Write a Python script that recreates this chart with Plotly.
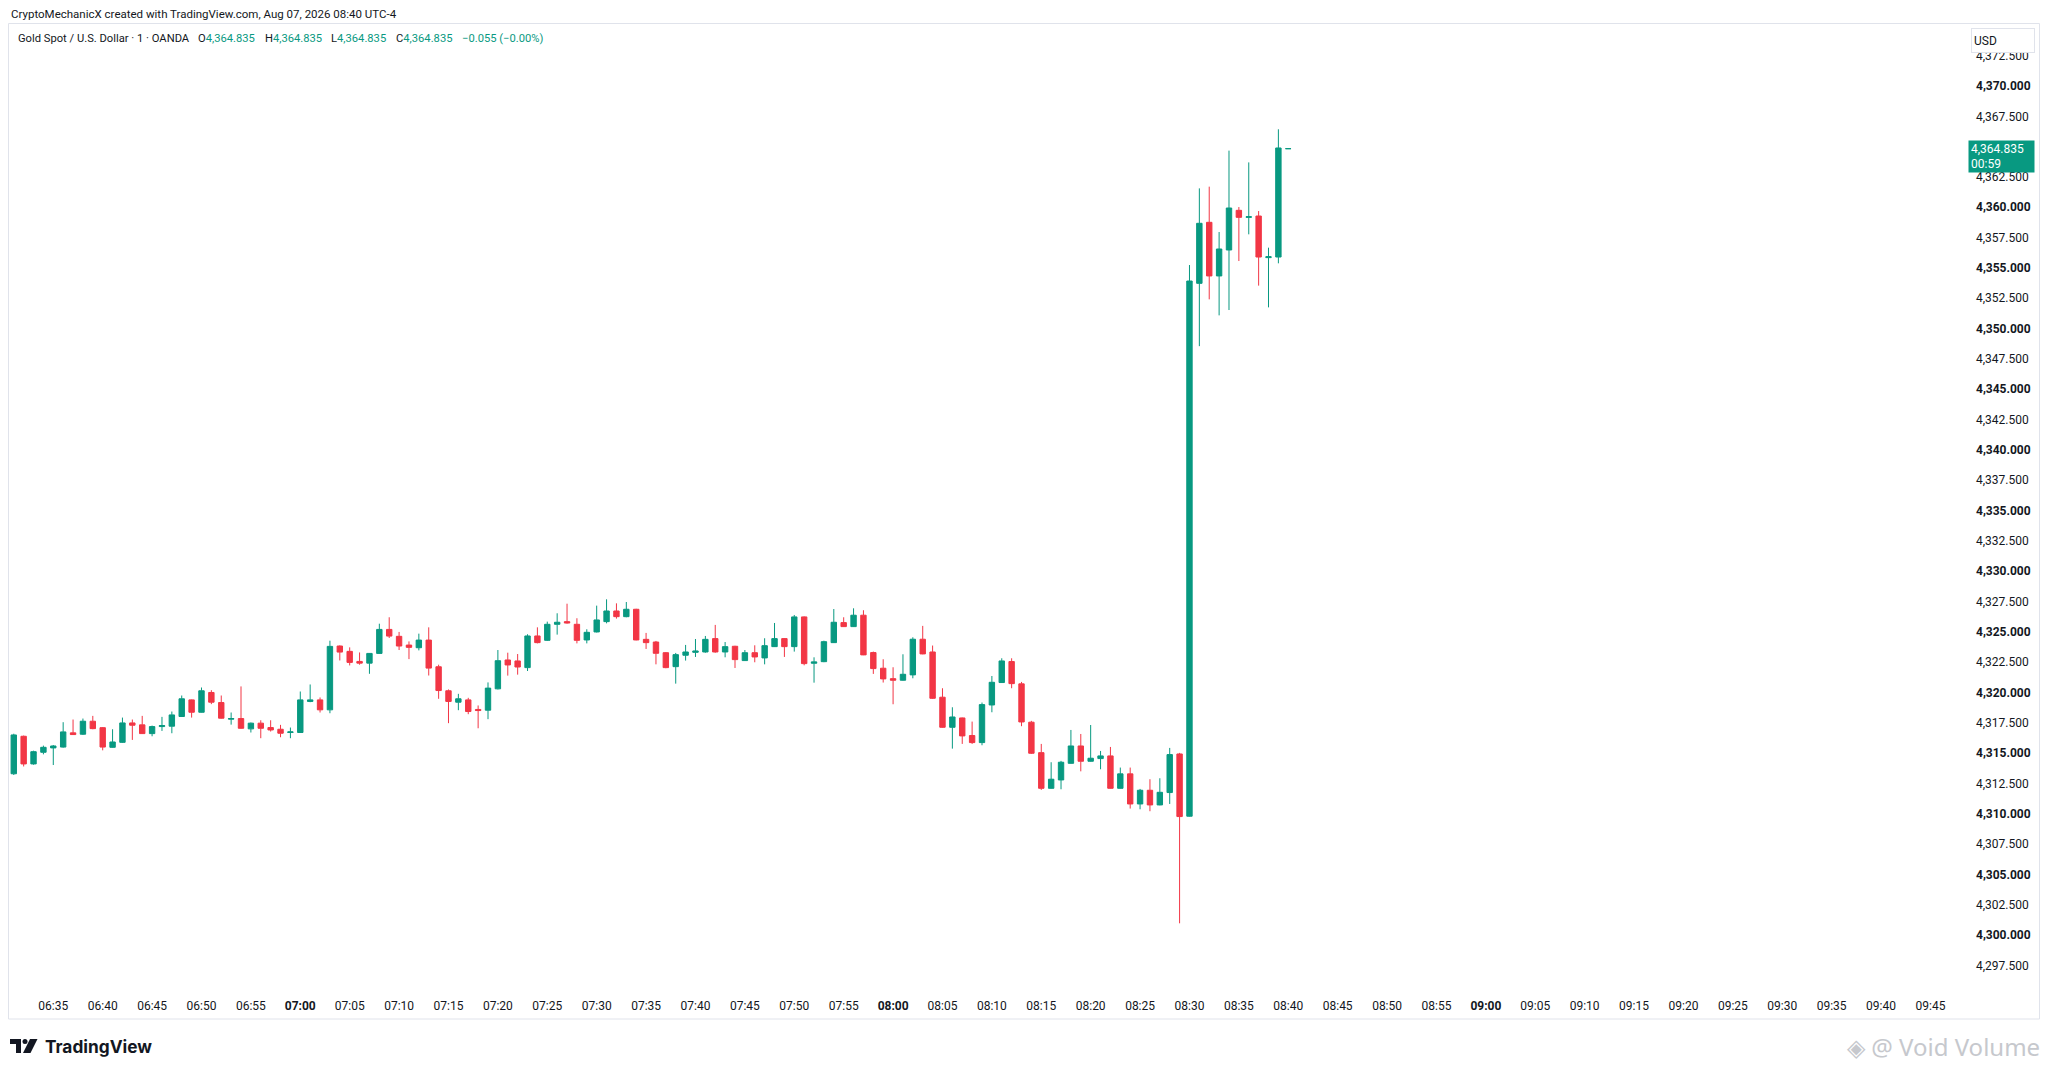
"""
Gold Spot / USD 1-minute candles (OANDA), TradingView-style light chart.
"""

import pandas as pd
import plotly.graph_objects as go

GREEN = "#089981"
RED = "#F23645"
TEXT = "#131722"
BORDER = "#E0E3EB"
FONT = "Roboto, 'Noto Sans', sans-serif"

# ── data: 1-minute bars from 06:31 to 08:40 ──────────────────────────────────
START = "2026-08-07 06:31"

OPEN = [
    4313.30, 4316.39, 4314.11, 4315.07, 4315.43, 4315.50, 4316.67, 4316.56, 4317.63, 4317.10,
    4315.48, 4315.89, 4317.49, 4317.33, 4316.61, 4317.19, 4317.22, 4318.02, 4319.39, 4318.37,
    4320.00, 4319.17, 4317.80, 4317.85, 4317.00, 4317.47, 4317.11, 4316.97, 4316.70, 4316.70,
    4319.26, 4319.39, 4318.57, 4323.83, 4323.39, 4322.56, 4322.42, 4323.22, 4325.20, 4324.63,
    4323.91, 4323.69, 4324.32, 4322.12, 4320.14, 4319.20, 4319.39, 4318.60, 4318.54, 4320.30,
    4322.68, 4322.60, 4322.05, 4324.66, 4324.30, 4325.62, 4325.84, 4325.62, 4324.33, 4324.99,
    4325.84, 4326.72, 4326.25, 4326.86, 4324.38, 4324.16, 4323.28, 4322.13, 4323.07, 4323.31,
    4323.34, 4324.44, 4323.34, 4323.81, 4322.63, 4323.28, 4322.85, 4323.78, 4324.44, 4323.78,
    4326.23, 4322.41, 4322.54, 4324.11, 4325.76, 4325.43, 4326.37, 4323.29, 4322.00, 4321.14,
    4321.01, 4321.45, 4324.39, 4323.34, 4319.61, 4317.13, 4317.90, 4316.45, 4315.87, 4318.97,
    4320.82, 4322.55, 4320.71, 4317.55, 4315.04, 4312.10, 4312.79, 4314.16, 4315.59, 4314.33,
    4314.55, 4314.77, 4312.10, 4313.29, 4310.81, 4311.94, 4310.73, 4311.75, 4314.93, 4309.80,
    4353.73, 4358.76, 4354.34, 4356.48, 4359.75, 4359.17, 4359.28, 4355.85, 4355.90, 4364.83,
]
HIGH = [
    4316.60, 4316.45, 4315.20, 4315.62, 4315.67, 4317.55, 4317.77, 4317.85, 4318.07, 4317.15,
    4316.97, 4317.93, 4317.77, 4318.07, 4317.27, 4317.99, 4318.43, 4319.75, 4319.42, 4320.41,
    4320.19, 4319.75, 4318.35, 4320.50, 4317.52, 4317.71, 4317.71, 4317.33, 4317.11, 4320.08,
    4320.66, 4319.59, 4324.27, 4323.88, 4323.72, 4323.30, 4323.25, 4325.67, 4326.20, 4324.99,
    4324.21, 4324.85, 4325.37, 4322.29, 4320.25, 4319.89, 4319.56, 4318.93, 4320.83, 4323.50,
    4323.28, 4323.17, 4324.80, 4325.37, 4325.84, 4326.53, 4327.32, 4326.12, 4325.21, 4327.16,
    4327.68, 4327.35, 4327.46, 4326.90, 4324.91, 4324.25, 4323.32, 4323.26, 4323.92, 4324.41,
    4324.66, 4325.57, 4324.16, 4323.85, 4323.50, 4323.89, 4324.47, 4325.73, 4324.48, 4326.39,
    4326.27, 4322.90, 4324.27, 4326.88, 4326.20, 4326.94, 4326.78, 4323.37, 4322.74, 4322.08,
    4323.15, 4324.55, 4325.49, 4323.87, 4320.35, 4318.78, 4317.93, 4317.60, 4319.17, 4321.36,
    4322.82, 4322.82, 4320.87, 4317.66, 4315.76, 4314.25, 4314.36, 4316.91, 4316.58, 4317.32,
    4315.18, 4315.51, 4313.81, 4313.81, 4312.05, 4312.85, 4312.93, 4315.43, 4315.02, 4355.24,
    4361.56, 4361.70, 4357.96, 4364.67, 4360.02, 4363.70, 4359.69, 4356.67, 4366.43, 4364.835,
]
LOW = [
    4313.20, 4313.90, 4314.05, 4314.90, 4314.02, 4315.45, 4316.50, 4316.50, 4316.97, 4315.23,
    4315.45, 4315.85, 4316.09, 4316.58, 4316.39, 4316.83, 4316.64, 4318.00, 4317.93, 4318.35,
    4319.04, 4317.85, 4317.35, 4317.02, 4316.70, 4316.23, 4316.78, 4316.31, 4316.23, 4316.68,
    4319.20, 4318.35, 4318.29, 4322.64, 4322.23, 4322.29, 4321.54, 4323.20, 4324.49, 4323.50,
    4322.75, 4323.47, 4321.40, 4319.48, 4317.47, 4318.54, 4318.21, 4317.05, 4317.80, 4320.25,
    4321.39, 4321.47, 4321.77, 4324.05, 4324.25, 4324.77, 4325.68, 4324.05, 4324.05, 4324.95,
    4325.70, 4326.09, 4326.20, 4324.30, 4323.59, 4322.32, 4322.00, 4320.73, 4322.63, 4322.93,
    4323.28, 4323.28, 4322.90, 4322.02, 4322.60, 4322.49, 4322.32, 4323.75, 4322.93, 4323.37,
    4322.24, 4320.81, 4322.50, 4324.08, 4325.40, 4325.40, 4323.08, 4321.53, 4320.82, 4319.03,
    4320.98, 4321.17, 4323.15, 4319.47, 4317.10, 4315.37, 4315.76, 4315.76, 4315.65, 4318.37,
    4320.80, 4320.35, 4317.22, 4314.93, 4311.97, 4312.08, 4312.02, 4314.14, 4313.50, 4314.30,
    4313.67, 4312.08, 4312.08, 4310.43, 4310.37, 4310.21, 4310.70, 4310.81, 4300.97, 4309.77,
    4348.55, 4352.41, 4351.09, 4351.53, 4355.57, 4357.77, 4353.54, 4351.75, 4355.38, 4364.83,
]
CLOSE = [
    4316.50, 4314.11, 4315.12, 4315.48, 4315.59, 4316.75, 4316.53, 4317.63, 4317.02, 4315.50,
    4315.92, 4317.49, 4317.30, 4316.61, 4317.19, 4317.27, 4318.15, 4319.48, 4318.37, 4320.14,
    4319.20, 4317.88, 4317.85, 4317.05, 4317.47, 4317.05, 4316.91, 4316.64, 4316.75, 4319.39,
    4319.39, 4318.57, 4323.80, 4323.33, 4322.48, 4322.42, 4323.22, 4325.20, 4324.65, 4323.83,
    4323.72, 4324.32, 4322.01, 4320.16, 4319.26, 4319.48, 4318.43, 4318.51, 4320.36, 4322.62,
    4322.27, 4322.10, 4324.66, 4324.11, 4325.62, 4325.79, 4325.73, 4324.30, 4324.96, 4325.98,
    4326.72, 4326.25, 4326.86, 4324.33, 4324.11, 4323.23, 4322.05, 4323.12, 4323.34, 4323.42,
    4324.38, 4323.34, 4323.78, 4322.71, 4323.28, 4322.93, 4323.86, 4324.44, 4323.78, 4326.23,
    4322.38, 4322.52, 4324.19, 4325.79, 4325.43, 4326.37, 4323.10, 4321.97, 4321.12, 4321.01,
    4321.50, 4324.39, 4323.18, 4319.52, 4317.13, 4317.98, 4316.42, 4315.87, 4319.00, 4320.84,
    4322.60, 4320.73, 4317.57, 4314.99, 4312.10, 4312.85, 4314.25, 4315.59, 4314.33, 4314.58,
    4314.77, 4312.10, 4313.29, 4310.81, 4311.94, 4310.73, 4311.77, 4314.88, 4309.77, 4353.92,
    4358.68, 4354.34, 4356.56, 4359.94, 4359.17, 4359.22, 4355.90, 4355.92, 4364.89, 4364.835,
]

X_TICKS = [
    "06:35", "06:40", "06:45", "06:50", "06:55", "07:00", "07:05", "07:10", "07:15", "07:20",
    "07:25", "07:30", "07:35", "07:40", "07:45", "07:50", "07:55", "08:00", "08:05", "08:10",
    "08:15", "08:20", "08:25", "08:30", "08:35", "08:40", "08:45", "08:50", "08:55", "09:00",
    "09:05", "09:10", "09:15", "09:20", "09:25", "09:30", "09:35", "09:40", "09:45",
]
Y_TICKS = [
    4297.5, 4300.0, 4302.5, 4305.0, 4307.5, 4310.0, 4312.5, 4315.0, 4317.5, 4320.0,
    4322.5, 4325.0, 4327.5, 4330.0, 4332.5, 4335.0, 4337.5, 4340.0, 4342.5, 4345.0,
    4347.5, 4350.0, 4352.5, 4355.0, 4357.5, 4360.0, 4362.5, 4367.5, 4370.0, 4372.5,
]

LAST_PRICE = "4,364.835"
COUNTDOWN = "00:59"
CHANGE = "−0.055 (−0.00%)"

# ── geometry (page pixels, minus the 8px body margin) ────────────────────────
W, H = 2032, 1056
L, R, T, B = 1, 72, 16, 73


def px(x):
    return (x - L) / (W - L - R)


def py(y):
    return 1 - (y - T) / (H - T - B)


times = pd.date_range(START, periods=len(CLOSE), freq="min")

fig = go.Figure(go.Candlestick(
    x=times, open=OPEN, high=HIGH, low=LOW, close=CLOSE,
    increasing=dict(line=dict(color=GREEN, width=1), fillcolor=GREEN),
    decreasing=dict(line=dict(color=RED, width=1), fillcolor=RED),
    whiskerwidth=0,
    showlegend=False,
    hoverinfo="skip",
))

x_vals = ["2026-08-07 " + t for t in X_TICKS]
x_text = [f"<b>{t}</b>" if t.endswith(":00") else t for t in X_TICKS]
y_text = [f"<b>{v:,.3f}</b>" if v % 5 == 0 else f"{v:,.3f}" for v in Y_TICKS]

fig.update_layout(
    width=W, height=H,
    margin=dict(l=L, r=R, t=T, b=B, autoexpand=False),
    paper_bgcolor="#ffffff",
    plot_bgcolor="#ffffff",
    font=dict(family=FONT, size=12, color=TEXT),
    boxgap=0.22,
    xaxis=dict(
        type="date",
        range=["2026-08-07 06:30:31", "2026-08-07 09:48:48"],
        rangeslider=dict(visible=False),
        tickvals=x_vals, ticktext=x_text,
        showgrid=False, zeroline=False, showline=False, ticks="",
        tickfont=dict(size=12, color=TEXT),
        ticklabelstandoff=6,
    ),
    yaxis=dict(
        side="right",
        range=[4295.39, 4375.11],
        tickvals=Y_TICKS, ticktext=y_text,
        showgrid=False, zeroline=False, showline=False, ticks="",
        tickfont=dict(size=12, color=TEXT),
        ticklabelstandoff=7,
    ),
)

# pane border
fig.add_shape(type="rect", xref="paper", yref="paper",
              x0=px(0.5), x1=px(2031.5), y0=py(1011), y1=py(15.5),
              line=dict(color=BORDER, width=1), layer="below")

HDR = 11.2
ann = []
ann.append(dict(x=px(1), y=py(6), text="CryptoMechanicX created with TradingView.com, Aug 07, 2026 08:40 UTC-4",
                xanchor="left", font=dict(size=11.5, color=TEXT)))
ann.append(dict(x=px(8), y=py(30), text="Gold Spot / U.S. Dollar · 1 · OANDA",
                xanchor="left", font=dict(size=HDR, color=TEXT)))
for lab, xpos in zip(["O", "H", "L", "C"], [188, 255, 321, 386]):
    ann.append(dict(x=px(xpos), y=py(30),
                    text=f"{lab}<span style='color:{GREEN}'>{LAST_PRICE}</span>",
                    xanchor="left", font=dict(size=HDR, color=TEXT)))
ann.append(dict(x=px(452), y=py(30), text=CHANGE, xanchor="left",
                font=dict(size=HDR, color=GREEN)))

# USD box
ann.append(dict(x=px(1963), y=py(20), text="USD", xanchor="left", yanchor="top",
                align="left", width=58, height=19, borderpad=2,
                bgcolor="#ffffff", bordercolor=BORDER, borderwidth=1,
                font=dict(size=12, color=TEXT)))
# last price label
ann.append(dict(x=px(1960), y=py(132), text=f"{LAST_PRICE}<br>{COUNTDOWN}",
                xanchor="left", yanchor="top", align="left", width=61, height=27,
                borderpad=2, bgcolor=GREEN, font=dict(size=12, color="#ffffff")))

# TradingView logo
ann.append(dict(x=px(35), y=py(1038), text="TradingView", xanchor="left",
                font=dict(family="Inter, Roboto, sans-serif", size=17.3, color=TEXT, weight=700)))
logo = "#131722"
fig.add_shape(type="rect", xref="paper", yref="paper", x0=px(2), x1=px(13),
              y0=py(1036), y1=py(1031), fillcolor=logo, line_width=0)
fig.add_shape(type="rect", xref="paper", yref="paper", x0=px(8), x1=px(13),
              y0=py(1045), y1=py(1031), fillcolor=logo, line_width=0)
fig.add_shape(type="circle", xref="paper", yref="paper", x0=px(14.5), x1=px(19.5),
              y0=py(1036), y1=py(1031), fillcolor=logo, line_width=0)
fig.add_shape(type="path", xref="paper", yref="paper",
              path=f"M {px(22)} {py(1031)} L {px(29.5)} {py(1031)} L {px(22.5)} {py(1045)} "
                   f"L {px(15)} {py(1045)} Z",
              fillcolor=logo, line_width=0)

# watermark
ann.append(dict(x=px(2034), y=py(1038), text="◈ @ Void Volume", xanchor="right",
                font=dict(family="'Noto Sans', Roboto, sans-serif", size=24, color="#C6C8CD")))

for a in ann:
    a.setdefault("xref", "paper")
    a.setdefault("yref", "paper")
    a.setdefault("showarrow", False)
    a.setdefault("yanchor", "middle")
    fig.add_annotation(**a)

fig.write_html("out.html")
